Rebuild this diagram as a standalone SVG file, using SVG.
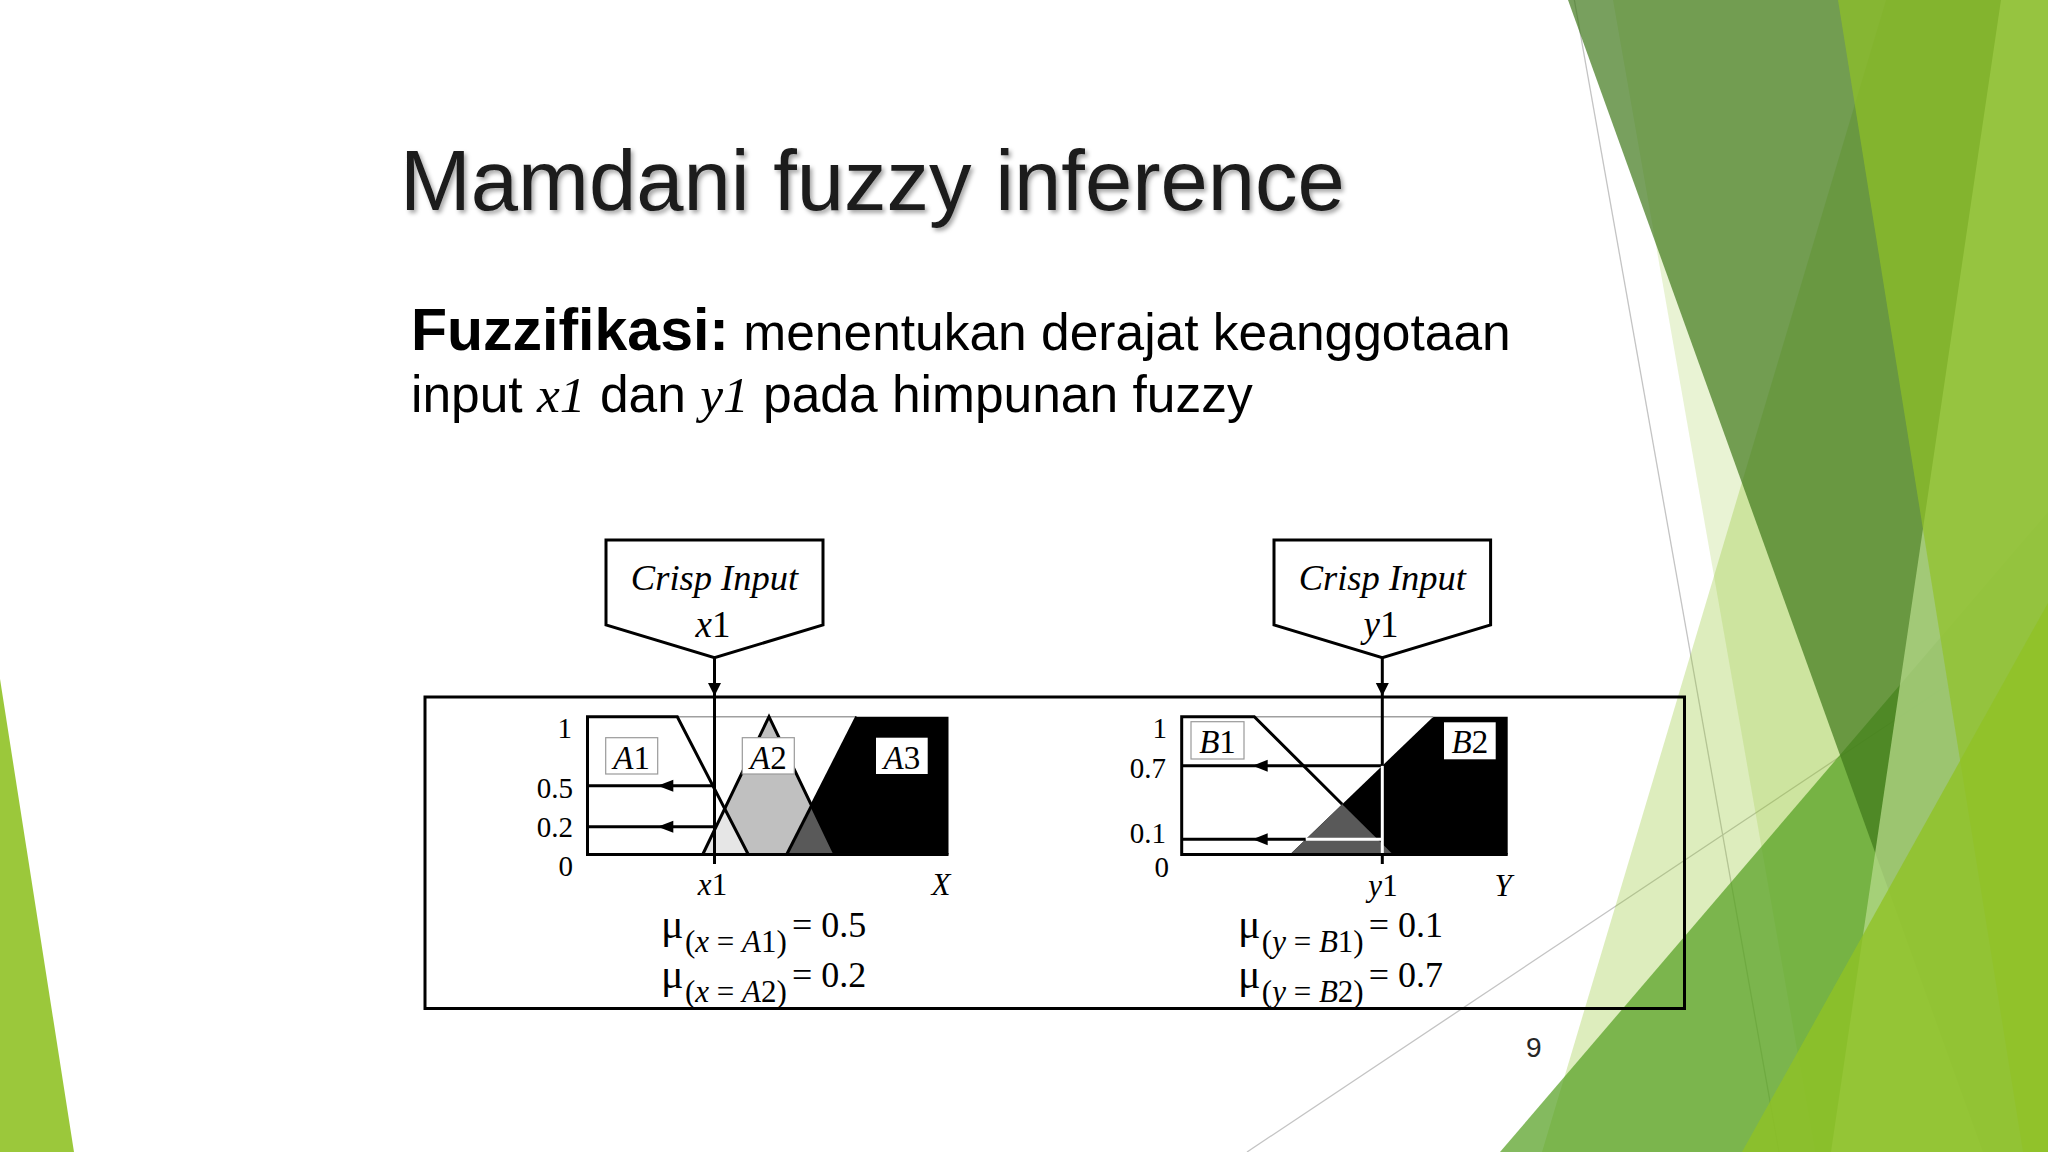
<svg xmlns="http://www.w3.org/2000/svg" width="2048" height="1152" viewBox="0 0 2048 1152">
<defs>
<style>
.ln{stroke:#000;stroke-width:3;fill:none}
.wln{stroke:#fff;stroke-width:3;fill:none}
.box{fill:#fff;stroke:#000;stroke-width:3}
.ah{fill:#000}
.thin{stroke:#a0a0a0;stroke-width:1.5}
.serif{font-family:"Liberation Serif","Times New Roman",serif;fill:#000}
.sans{font-family:"Liberation Sans",Arial,sans-serif}
.it{font-style:italic}
.tick{font-size:29px;text-anchor:end}
.lbl{font-size:33px;text-anchor:middle}
.ax{font-size:31px;text-anchor:middle}
.lblbox{fill:#fff;stroke:#9a9a9a;stroke-width:1.2}
.mu{font-size:36px}
.mug{font-size:42px}
.sub{font-size:31px}
.deco{stroke:#c4c4c4;stroke-width:1.3;fill:none}
</style>
<filter id="sh" x="-5%" y="-20%" width="110%" height="150%">
<feDropShadow dx="2.5" dy="3" stdDeviation="2" flood-color="#000" flood-opacity="0.35"/>
</filter>
</defs>
<rect width="2048" height="1152" fill="#fff"/>
<g id="background">
<line class="deco" x1="1574" y1="-2" x2="1779" y2="1152"/>
<line class="deco" x1="1247" y1="1152" x2="2048" y2="618"/>
<polygon points="1886,0 2048,0 2048,1152 1542,1152" fill="#90C226" fill-opacity="0.3"/>
<polygon points="1613,0 2048,0 2048,1152 1815,1152" fill="#90C226" fill-opacity="0.2"/>
<polygon points="2048,512 2048,1152 1500,1152" fill="#54A021" fill-opacity="0.72"/>
<polygon points="1568,0 2048,0 2048,1152 1983,1152" fill="#3F7819" fill-opacity="0.7"/>
<polygon points="2001,0 2048,0 2048,1152 1831,1152" fill="#B5D98A" fill-opacity="0.75"/>
<polygon points="1838,0 2048,0 2048,1152 2023,1152" fill="#90C226" fill-opacity="0.67"/>
<polygon points="2048,603 2048,1152 1742,1152" fill="#90C226" fill-opacity="0.8"/>
<polygon points="0,679 74,1152 0,1152" fill="#90C226" fill-opacity="0.9"/>
</g>
<g id="title" filter="url(#sh)">
<text class="sans" x="400" y="210" font-size="85" fill="#1a1a1a">Mamdani fuzzy inference</text>
</g>
<g id="subtitle">
<text class="sans" x="411" y="350" fill="#000"><tspan font-weight="bold" font-size="59">Fuzzifikasi:</tspan><tspan font-size="51.5"> menentukan derajat keanggotaan</tspan></text>
<text class="sans" x="411" y="412" font-size="51.5" fill="#000">input <tspan class="serif it">x1</tspan> dan <tspan class="serif it">y1</tspan> pada himpunan fuzzy</text>
</g>
<g id="crisp-input-x1">
<polygon class="box" points="606,540 823,540 823,625 714.5,657.7 606,625"/>
<text class="serif it" x="714.5" y="590" font-size="36.5" text-anchor="middle">Crisp Input</text>
<text class="serif" x="713" y="637" font-size="37" text-anchor="middle"><tspan class="it">x</tspan>1</text>
</g>
<g id="crisp-input-y1">
<polygon class="box" points="1274,540 1490.6,540 1490.6,625 1382.3,657.7 1274,625"/>
<text class="serif it" x="1382.3" y="590" font-size="36.5" text-anchor="middle">Crisp Input</text>
<text class="serif" x="1381" y="637" font-size="37" text-anchor="middle"><tspan class="it">y</tspan>1</text>
</g>
<g id="fuzzification">
<rect class="ln" x="425" y="697" width="1259.5" height="311.5"/>
</g>
<g id="chart-x">
<polygon points="702.7,854.5 769,716.7 835,854.5" fill="#c0c0c0"/>
<polygon points="702.7,854.5 724.7,808.7 748.3,854.5" fill="#e6e6e6"/>
<polygon points="786.7,854.5 856.7,716.7 948.5,716.7 948.5,854.5" fill="#000"/>
<polygon points="786.7,854.5 811.6,805.6 835,854.5" fill="#595959"/>
<line class="thin" x1="677.3" y1="716.7" x2="856.7" y2="716.7"/>
<polyline class="ln" points="702.7,854.5 769,716.7 835,854.5"/>
<line class="ln" x1="786.7" y1="854.5" x2="856.7" y2="716.7"/>
<path class="ln" d="M748.3,854.5 L677.3,716.7 L587.5,716.7 L587.5,854.5 L948.5,854.5"/>
<line class="ln" x1="714.5" y1="785.7" x2="587.5" y2="785.7"/>
<line class="ln" x1="714.5" y1="826.7" x2="587.5" y2="826.7"/>
<polygon class="ah" points="657.7,785.7 673.3,779.7 673.3,791.7"/>
<polygon class="ah" points="657.7,826.7 673.3,820.7 673.3,832.7"/>
<rect class="lblbox" x="605.7" y="737.7" width="52" height="36.3"/>
<text class="serif lbl" x="631.7" y="768.5"><tspan class="it">A</tspan>1</text>
<rect class="lblbox" x="742.3" y="737.7" width="52" height="36.3"/>
<text class="serif lbl" x="768.3" y="768.5"><tspan class="it">A</tspan>2</text>
<rect x="876" y="737.7" width="51.7" height="36.3" fill="#fff"/>
<text class="serif lbl" x="901.8" y="768.5"><tspan class="it">A</tspan>3</text>
<text class="serif tick" x="572" y="738">1</text>
<text class="serif tick" x="573" y="798">0.5</text>
<text class="serif tick" x="573" y="837">0.2</text>
<text class="serif tick" x="573" y="876">0</text>
<text class="serif ax" x="712.5" y="895"><tspan class="it">x</tspan>1</text>
<text class="serif ax it" x="941" y="895">X</text>
</g>
<g id="chart-y">
<polygon points="1290,854.5 1433.3,716.7 1507.7,716.7 1507.7,854.5" fill="#000"/>
<polygon points="1290,854.5 1342.2,804.3 1393,854.5" fill="#595959"/>
<line class="thin" x1="1254.3" y1="716.7" x2="1433.3" y2="716.7"/>
<path class="ln" d="M1342.2,804.3 L1254.3,716.7 L1181.7,716.7 L1181.7,854.5 L1507.7,854.5"/>
<line class="ln" x1="1181.7" y1="765.7" x2="1382.3" y2="765.7"/>
<line class="ln" x1="1181.7" y1="839.3" x2="1305.8" y2="839.3"/>
<line class="wln" x1="1305.8" y1="839.3" x2="1382.3" y2="839.3"/>
<line class="wln" x1="1382.3" y1="765.7" x2="1382.3" y2="853"/>
<polygon class="ah" points="1252.7,765.7 1267.7,759.7 1267.7,771.7"/>
<polygon class="ah" points="1252.7,839.3 1267.7,833.3 1267.7,845.3"/>
<rect class="lblbox" x="1191" y="721.7" width="53" height="37.3"/>
<text class="serif lbl" x="1217.5" y="753"><tspan class="it">B</tspan>1</text>
<rect x="1444" y="722.3" width="51.7" height="37" fill="#fff"/>
<text class="serif lbl" x="1469.8" y="753.3"><tspan class="it">B</tspan>2</text>
<text class="serif tick" x="1167" y="738">1</text>
<text class="serif tick" x="1166" y="778">0.7</text>
<text class="serif tick" x="1166" y="843">0.1</text>
<text class="serif tick" x="1169" y="877">0</text>
<text class="serif ax" x="1383" y="896"><tspan class="it">y</tspan>1</text>
<text class="serif ax it" x="1503" y="896">Y</text>
</g>
<g id="membership-values">
<text class="serif mug" x="661" y="938">μ</text>
<text class="serif sub" x="685" y="951.7">(<tspan class="it">x</tspan> = <tspan class="it">A</tspan>1)</text>
<text class="serif mu" x="792" y="936.7">= 0.5</text>
<text class="serif mug" x="661" y="988">μ</text>
<text class="serif sub" x="685" y="1001.7">(<tspan class="it">x</tspan> = <tspan class="it">A</tspan>2)</text>
<text class="serif mu" x="792" y="986.7">= 0.2</text>
<text class="serif mug" x="1238" y="938">μ</text>
<text class="serif sub" x="1261.8" y="951.7">(<tspan class="it">y</tspan> = <tspan class="it">B</tspan>1)</text>
<text class="serif mu" x="1368.8" y="936.7">= 0.1</text>
<text class="serif mug" x="1238" y="988">μ</text>
<text class="serif sub" x="1261.8" y="1001.7">(<tspan class="it">y</tspan> = <tspan class="it">B</tspan>2)</text>
<text class="serif mu" x="1368.8" y="986.7">= 0.7</text>
</g>
<g id="connectors">
<line class="ln" x1="714.5" y1="657.7" x2="714.5" y2="864"/>
<polygon class="ah" points="708,683 721,683 714.5,696"/>
<line class="ln" x1="1382.3" y1="657.7" x2="1382.3" y2="765.7"/>
<line class="ln" x1="1382.3" y1="854.5" x2="1382.3" y2="864"/>
<polygon class="ah" points="1375.8,683 1388.8,683 1382.3,696"/>
</g>
<g id="page-number">
<text class="sans" x="1526" y="1057" font-size="28" fill="#262626">9</text>
</g>
</svg>
